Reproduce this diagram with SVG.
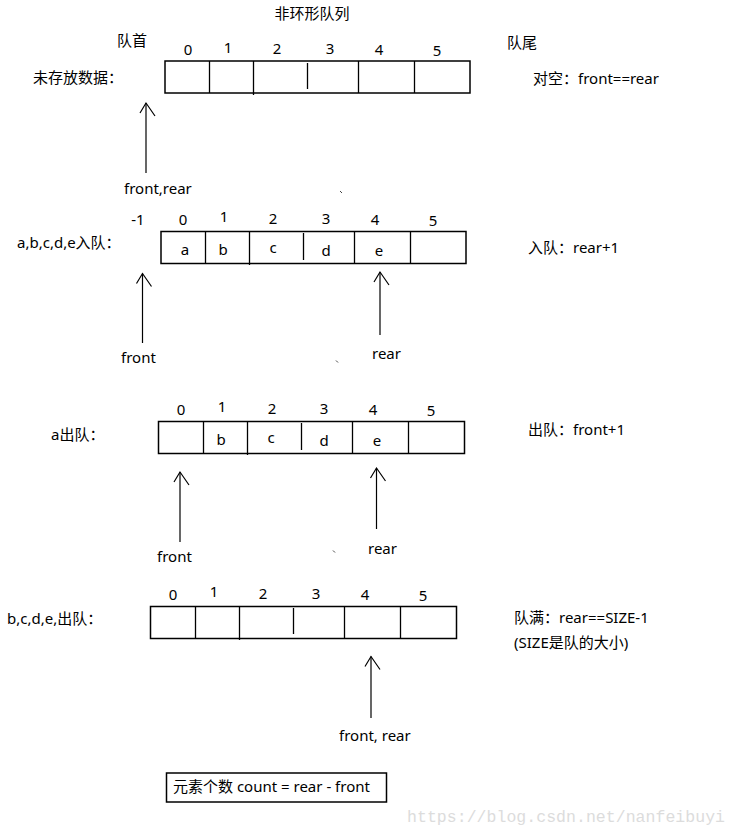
<svg xmlns="http://www.w3.org/2000/svg" xmlns:xlink="http://www.w3.org/1999/xlink" width="738" height="829" viewBox="0 0 738 829">
<style>
text{font-family:"Noto Sans","Noto Sans CJK SC",sans-serif;font-size:15px;fill:#000}
.m{text-anchor:middle}
.box{fill:none;stroke:#000;stroke-width:1.5}
.div{stroke:#000;stroke-width:1.3}
.arr{fill:none;stroke:#000;stroke-width:1.2}
.wm{font-family:"Liberation Mono","DejaVu Sans Mono",monospace;font-size:16.5px;fill:#dcdcdc}
.tick{stroke:#444;stroke-width:1}
</style>
<defs>
<path id="head" class="arr" d="M-6,10 L0,0 L9,13"/>
</defs>
<rect width="738" height="829" fill="#fff"/>

<g id="title"><text class="m" x="312" y="19">非环形队列</text></g>
<g id="head-tail">
<text x="117" y="46">队首</text>
<text x="507" y="48">队尾</text>
</g>

<g id="row-empty">
<text x="33" y="83">未存放数据：</text>
<rect class="box" x="165" y="61" width="305" height="32"/>
<line class="div" x1="209.5" y1="61" x2="209.5" y2="93"/>
<line class="div" x1="253.5" y1="61" x2="253.5" y2="95"/>
<line class="div" x1="307.5" y1="63" x2="307.5" y2="89"/>
<line class="div" x1="358.5" y1="61" x2="358.5" y2="93"/>
<line class="div" x1="414.5" y1="61" x2="414.5" y2="93"/>
<text class="m" x="188" y="55">0</text><text class="m" x="228" y="53">1</text><text class="m" x="277" y="54">2</text><text class="m" x="330" y="54">3</text><text class="m" x="379" y="55">4</text><text class="m" x="437" y="56">5</text>
<text x="124" y="194">front,rear</text>
<text x="533" y="84">对空：front==rear</text>
</g>

<g id="row-enqueue">
<text x="17" y="248">a,b,c,d,e入队：</text>
<rect class="box" x="161" y="231.5" width="305" height="32"/>
<line class="div" x1="205.5" y1="231.5" x2="205.5" y2="263.5"/>
<line class="div" x1="249.5" y1="231.5" x2="249.5" y2="265"/>
<line class="div" x1="303.5" y1="233" x2="303.5" y2="260"/>
<line class="div" x1="354.5" y1="231.5" x2="354.5" y2="263.5"/>
<line class="div" x1="410.5" y1="231.5" x2="410.5" y2="263.5"/>
<text class="m" x="138" y="225">-1</text><text class="m" x="183" y="225">0</text><text class="m" x="224" y="222">1</text><text class="m" x="273" y="224">2</text><text class="m" x="326" y="224">3</text><text class="m" x="375" y="225">4</text><text class="m" x="433" y="226">5</text>
<text class="m" x="185" y="255">a</text><text class="m" x="223" y="255">b</text><text class="m" x="273" y="253">c</text><text class="m" x="326" y="256">d</text><text class="m" x="379" y="256">e</text>
<text x="121" y="363">front</text>
<text x="372" y="359">rear</text>
<text x="528" y="253">入队：rear+1</text>
</g>

<g id="row-dequeue">
<text x="51" y="440">a出队：</text>
<rect class="box" x="158.5" y="421.5" width="306" height="32"/>
<line class="div" x1="203.5" y1="421.5" x2="203.5" y2="453.5"/>
<line class="div" x1="247.5" y1="421.5" x2="247.5" y2="455"/>
<line class="div" x1="301.5" y1="423" x2="301.5" y2="450"/>
<line class="div" x1="352.5" y1="421.5" x2="352.5" y2="453.5"/>
<line class="div" x1="408.5" y1="421.5" x2="408.5" y2="453.5"/>
<text class="m" x="181" y="415">0</text><text class="m" x="222" y="412">1</text><text class="m" x="272" y="414">2</text><text class="m" x="324" y="414">3</text><text class="m" x="373" y="415">4</text><text class="m" x="431" y="416">5</text>
<text class="m" x="221" y="445">b</text><text class="m" x="271" y="443">c</text><text class="m" x="324" y="446">d</text><text class="m" x="377" y="446">e</text>
<text x="157" y="562">front</text>
<text x="368" y="554">rear</text>
<text x="528" y="435">出队：front+1</text>
</g>

<g id="row-full">
<text x="7" y="624">b,c,d,e,出队：</text>
<rect class="box" x="150.5" y="606.5" width="306" height="32"/>
<line class="div" x1="195.5" y1="606.5" x2="195.5" y2="638.5"/>
<line class="div" x1="239.5" y1="606.5" x2="239.5" y2="640"/>
<line class="div" x1="293.5" y1="608" x2="293.5" y2="634"/>
<line class="div" x1="344.5" y1="606.5" x2="344.5" y2="638.5"/>
<line class="div" x1="400.5" y1="606.5" x2="400.5" y2="638.5"/>
<text class="m" x="173" y="600">0</text><text class="m" x="214" y="597">1</text><text class="m" x="263" y="599">2</text><text class="m" x="316" y="599">3</text><text class="m" x="365" y="600">4</text><text class="m" x="423" y="601">5</text>
<text x="339" y="741">front, rear</text>
<text x="514" y="623">队满：rear==SIZE-1</text>
<text x="514" y="648">(SIZE是队的大小)</text>
</g>

<g id="connectors">
<line class="arr" x1="146" y1="173" x2="146" y2="103"/><use xlink:href="#head" href="#head" transform="translate(146,103)"/>
<line class="arr" x1="142.5" y1="343" x2="142.5" y2="273.5"/><use xlink:href="#head" href="#head" transform="translate(142.5,273.5)"/>
<line class="arr" x1="380" y1="335" x2="380" y2="272"/><use xlink:href="#head" href="#head" transform="translate(380,272)"/>
<line class="arr" x1="180" y1="542" x2="180" y2="472"/><use xlink:href="#head" href="#head" transform="translate(180,472)"/>
<line class="arr" x1="376.5" y1="529" x2="376.5" y2="468"/><use xlink:href="#head" href="#head" transform="translate(376.5,468)"/>
<line class="arr" x1="371" y1="718" x2="371" y2="656.5"/><use xlink:href="#head" href="#head" transform="translate(371,656.5)"/>
</g>

<g id="marks">
<line class="tick" x1="340" y1="191" x2="342" y2="193"/>
<line class="tick" x1="336" y1="360.5" x2="338" y2="362.5"/>
<line class="tick" x1="333" y1="550.5" x2="335" y2="552.5"/>
</g>

<g id="count-box">
<rect class="box" x="166.5" y="773" width="220" height="29" stroke-width="1.3"/>
<text x="173" y="792">元素个数 count = rear - front</text>
</g>

<g id="watermark"><text class="wm" x="407" y="822" textLength="318">https://blog.csdn.net/nanfeibuyi</text></g>
</svg>
